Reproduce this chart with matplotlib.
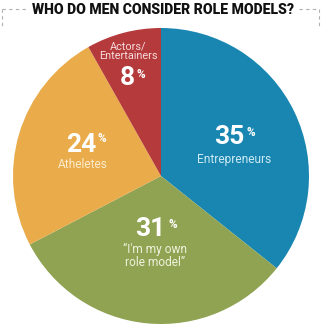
import matplotlib.pyplot as plt

# role model survey shares (percent)
categories = ["Entrepreneurs", "\u201cI'm my own\nrole model\u201d", "Atheletes", "Actors/\nEntertainers"]
shares = [35, 31, 24, 8]
colors = ["#1886b1", "#90a352", "#eaab4b", "#b43a3c"]
label_colors = ["#cdeaf5", "#eef2dc", "#fbeccd", "#f7dcdc"]

W, H = 322, 330
fig = plt.figure(figsize=(W / 100, H / 100), dpi=100)
ax = fig.add_axes([0, 0, 1, 1])

def py(y):
    # pixel rows run downward, data y runs upward
    return H - y

ax.pie(shares, colors=colors, startangle=90, counterclock=False,
       center=(161, py(176)), radius=148, frame=True,
       wedgeprops=dict(linewidth=0, antialiased=True))
ax.set_xlim(0, W)
ax.set_ylim(0, H)
ax.set_aspect("equal")
ax.axis("off")

# title with dashed frame
ax.text(163, py(10), "WHO DO MEN CONSIDER ROLE MODELS?", ha="center", va="center",
        fontsize=10.1, fontweight="black", family="Roboto", color="#111111")
dash = dict(color="#b0b0b0", lw=0.8, ls=(0, (3, 3)))
ax.plot([2, 27], [py(9), py(9)], **dash)
ax.plot([2, 2], [py(9), py(28)], **dash)
ax.plot([299, 319], [py(9), py(9)], **dash)
ax.plot([319, 319], [py(9), py(28)], **dash)

# number position, percent-sign position, label position (pixels)
num_pos = [(229, 137), (150, 229), (81, 145), (127, 78)]
pct_pos = [(251, 133), (173, 224), (102, 139), (141, 74)]
lab_pos = [(234, 159), (155, 256), (83, 164), (128, 51)]
lab_size = [8.6, 8.6, 8.6, 7.8]

for i, (cat, val) in enumerate(zip(categories, shares)):
    nx_, ny_ = num_pos[i]
    ax.text(nx_, py(ny_), str(val), ha="center", va="center", fontsize=19,
            fontweight="bold", family="Roboto", color="white")
    px_, py_ = pct_pos[i]
    ax.text(px_, py(py_), "%", ha="center", va="center", fontsize=8.5,
            fontweight="bold", family="Roboto", color="white")
    lx, ly = lab_pos[i]
    ax.text(lx, py(ly), cat, ha="center", va="center", fontsize=lab_size[i],
            family="Roboto", color=label_colors[i], linespacing=1.0)

fig.savefig("out.png", dpi=100)
